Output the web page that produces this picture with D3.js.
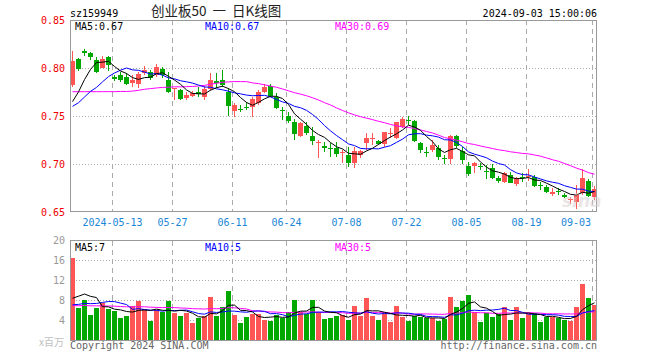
<!DOCTYPE html>
<html><head><meta charset="utf-8">
<script src="https://cdn.jsdelivr.net/npm/d3@7/dist/d3.min.js"></script>
<style>body{margin:0;background:#fff}svg{display:block}text{font-family:"DejaVu Sans Mono",monospace;font-size:10px}</style>
</head><body>
<svg id="c" width="660" height="360"></svg>
<script>
// ---------- data ----------
const dates = ["04-29","04-30","05-06","05-07","05-08","05-09","05-10","05-13","05-14","05-15","05-16","05-17","05-20","05-21","05-22","05-23","05-24","05-27","05-28","05-29","05-30","05-31",
"06-03","06-04","06-05","06-06","06-07","06-11","06-12","06-13","06-14","06-17","06-18","06-19","06-20","06-21","06-24","06-25","06-26","06-27","06-28",
"07-01","07-02","07-03","07-04","07-05","07-08","07-09","07-10","07-11","07-12","07-15","07-16","07-17","07-18","07-19","07-22","07-23","07-24","07-25","07-26","07-29","07-30","07-31",
"08-01","08-02","08-05","08-06","08-07","08-08","08-09","08-12","08-13","08-14","08-15","08-16","08-19","08-20","08-21","08-22","08-23","08-26","08-27","08-28","08-29","08-30","09-02","09-03"];
const openP  = [0.782,0.809,0.8177,0.816,0.808,0.800,0.8115,0.791,0.793,0.791,0.7847,0.783,0.795,0.7955,0.7927,0.799,0.788,0.7780,0.777,0.7684,0.7708,0.7747,0.770,0.7781,0.7865,0.7875,0.7753,0.7555,0.7576,0.7594,
0.759,0.7632,0.7753,0.7816,0.770,0.7566,0.750,0.744,0.7292,0.7396,0.7292,0.7229,0.7188,0.7167,0.717,0.7125,0.7094,0.7007,0.7094,0.7215,0.7264,0.7243,0.7205,0.7316,0.7267,0.7382,0.746,0.7448,0.7219,0.7127,
0.7146,0.717,0.7062,0.7049,0.7292,0.7139,0.6979,0.6983,0.6976,0.6924,0.6955,0.685,0.6816,0.6885,0.6788,0.6865,0.6872,0.6868,0.6785,0.6764,0.6687,0.6715,0.6677,0.6628,0.6608,0.6694,0.6826,0.666];
const closeP = [0.807,0.7986,0.816,0.811,0.796,0.809,0.803,0.789,0.7875,0.783,0.7875,0.7937,0.798,0.790,0.801,0.7927,0.775,0.7787,0.7677,0.7719,0.7743,0.773,0.7778,0.7875,0.7847,0.7823,0.7604,0.7615,0.7573,0.759,
0.7677,0.7753,0.7799,0.7708,0.7587,0.7562,0.7448,0.7309,0.743,0.7319,0.7243,0.7233,0.7163,0.716,0.710,0.7128,0.7007,0.7135,0.7135,0.7274,0.7267,0.7208,0.7337,0.732,0.744,0.7465,0.7458,0.7243,0.715,0.7118,
0.7198,0.7076,0.7059,0.7292,0.7188,0.7042,0.6896,0.7007,0.6972,0.692,0.6851,0.6826,0.6903,0.6806,0.6851,0.6861,0.6875,0.6774,0.6781,0.6712,0.6712,0.6712,0.6653,0.6632,0.6677,0.6851,0.6667,0.6736];
const highP  = [0.818,0.810,0.820,0.817,0.811,0.8125,0.812,0.793,0.796,0.7944,0.793,0.796,0.802,0.798,0.8038,0.8014,0.796,0.779,0.7778,0.7753,0.7764,0.7806,0.7813,0.795,0.7944,0.798,0.7788,0.7632,0.7615,0.765,
0.770,0.777,0.7833,0.7833,0.7736,0.759,0.7545,0.7465,0.744,0.744,0.7389,0.725,0.7233,0.7215,0.7233,0.7146,0.718,0.718,0.7146,0.7319,0.7319,0.725,0.7337,0.7372,0.744,0.7493,0.750,0.7458,0.7233,0.718,
0.725,0.7198,0.7094,0.7302,0.7302,0.718,0.7024,0.7024,0.7014,0.699,0.700,0.6875,0.692,0.692,0.6868,0.6903,0.6944,0.6885,0.6809,0.6781,0.6747,0.6747,0.6694,0.666,0.6781,0.6944,0.684,0.6771];
const lowP   = [0.780,0.797,0.8125,0.808,0.795,0.7997,0.797,0.786,0.785,0.782,0.7806,0.779,0.7927,0.788,0.791,0.790,0.774,0.7667,0.7667,0.7667,0.770,0.770,0.7667,0.7764,0.7788,0.7806,0.750,0.7493,0.7538,0.7562,
0.7493,0.7615,0.7736,0.7694,0.757,0.7458,0.7424,0.725,0.7285,0.730,0.7198,0.706,0.7128,0.7076,0.7076,0.7014,0.6972,0.6955,0.7066,0.7146,0.7198,0.7198,0.718,0.7267,0.7257,0.7372,0.7406,0.7233,0.7118,0.707,
0.7128,0.7042,0.700,0.700,0.7163,0.700,0.6875,0.691,0.6938,0.684,0.684,0.680,0.6806,0.680,0.6774,0.6816,0.6823,0.6764,0.6729,0.6694,0.6667,0.6677,0.6642,0.6583,0.6528,0.6677,0.6653,0.6625];
const volume = [16.6,6.47,8.2,5.2,6.47,7.47,6.33,5.87,4.47,4.87,6.87,8.0,6.33,4.0,6.2,5.67,8.0,5.47,4.87,5.47,3.47,4.47,5.0,8.67,5.0,6.67,9.87,5.2,3.47,4.67,
5.33,5.33,4.2,3.87,5.2,4.53,5.67,8.13,5.8,5.33,8.13,5.8,4.4,4.47,5.0,5.2,4.2,7.0,5.0,8.47,5.0,4.2,5.53,3.8,7.0,4.67,4.0,4.87,4.67,4.53,
4.47,4.0,4.33,8.8,6.8,8.0,9.2,5.8,3.8,5.53,4.67,5.33,6.67,4.2,6.67,4.47,5.53,5.53,3.8,4.67,4.7,4.5,4.2,4.0,6.7,11.4,8.5,7.13];
// closes / volumes of the 29 sessions before the window (needed for the moving averages)
const priorCloses = [0.799,0.815,0.81,0.797,0.808,0.802,0.79,0.78,0.785,0.775,0.77,0.765,0.77,0.78,0.775,0.77,0.765,0.77,0.765,0.768,0.76,0.757,0.752,0.755,0.751,0.748,0.752,0.758,0.760];
const priorVolumes = [7.5,6.8,7.2,6.5,8.0,6.9,7.1,6.2,6.6,7.4,7.0,6.8,6.5,7.3,6.9,7.2,6.6,6.8,7.0,6.2,5.5,6.2,5.8,6.0,5.5,4.5,6.0,7.5,7.7];
const priceTicks = [0.65,0.70,0.75,0.80,0.85];
const volTicks = [4,8,12,16,20];
const dateTicks = ["05-13","05-27","06-11","06-24","07-08","07-22","08-05","08-19","09-03"];
const dateTickLabels = ["2024-05-13","05-27","06-11","06-24","07-08","07-22","08-05","08-19","09-03"];
const maPeriods = [5,10,30];
const maColors = ["#000000","#0000ff","#ff00ff"];

// ---------- helpers ----------
function movingAvg(series, prior, n){
  const all = prior.concat(series), off = prior.length;
  return series.map((_,i)=> d3.mean(all.slice(off+i-n+1, off+i+1)));
}
const UP="#ff5555", DOWN="#00a800", GRID="#aaaaaa", FRAME="#999999";

const svg = d3.select("#c");
const L=70, R=597, T=20, B=212, VT=240.5, VB=340.5;
const x = d3.scaleLinear().domain([0, dates.length]).range([L, L+6*dates.length]);
const y = d3.scaleLinear().domain([0.65,0.85]).range([B,T]);
const yv = d3.scaleLinear().domain([0,20]).range([VB,VT]);
const bw = 5;

// ---------- grids ----------
const g = svg.append("g").attr("shape-rendering","crispEdges");
[0.70,0.75,0.80].forEach(p=>{
  g.append("line").attr("x1",L).attr("x2",R).attr("y1",Math.round(y(p))+0.5).attr("y2",Math.round(y(p))+0.5)
   .attr("stroke",GRID).attr("stroke-dasharray","1,2");
});
[4,8,12,16].forEach(v=>{
  g.append("line").attr("x1",L).attr("x2",R).attr("y1",Math.round(yv(v)-0.5)+0.5).attr("y2",Math.round(yv(v)-0.5)+0.5)
   .attr("stroke",GRID).attr("stroke-dasharray","1,2");
});
const tickIdx = dateTicks.map(d=>dates.indexOf(d));
tickIdx.forEach(i=>{
  const xx = Math.round(x(i))+0.5;
  [[T,B],[VT,VB]].forEach(([a,b])=>{
    g.append("line").attr("x1",xx).attr("x2",xx).attr("y1",a).attr("y2",b)
     .attr("stroke",GRID).attr("stroke-dasharray","5,4");
  });
});

// ---------- candles ----------
const cg = svg.append("g").attr("shape-rendering","crispEdges");
dates.forEach((d,i)=>{
  const col = closeP[i] >= openP[i] ? UP : DOWN;
  const x0 = Math.round(x(i));
  const yh = Math.round(y(highP[i])), yl = Math.round(y(lowP[i]));
  cg.append("rect").attr("x",x0+2).attr("width",1).attr("y",yh).attr("height",Math.max(1,yl-yh)).attr("fill",col);
  const yo = Math.round(y(openP[i])), yc = Math.round(y(closeP[i]));
  cg.append("rect").attr("x",x0).attr("width",bw).attr("y",Math.min(yo,yc)).attr("height",Math.max(1,Math.abs(yo-yc))).attr("fill",col);
  const vy = Math.round(yv(volume[i]));
  cg.append("rect").attr("x",x0).attr("width",bw).attr("y",vy).attr("height",Math.round(VB)-vy).attr("fill",col);
});

// ---------- moving averages ----------
const lineP = d3.line().x((d,i)=>x(i)+2.5).y(d=>y(d));
const lineV = d3.line().x((d,i)=>x(i)+2.5).y(d=>yv(d));
const priceMA = maPeriods.map(n=>movingAvg(closeP, priorCloses, n));
const volMA = maPeriods.map(n=>movingAvg(volume, priorVolumes, n));
[2,1,0].forEach(k=>{
  svg.append("path").attr("d",lineP(priceMA[k])).attr("fill","none").attr("stroke",maColors[k]).attr("stroke-width",1);
  svg.append("path").attr("d",lineV(volMA[k])).attr("fill","none").attr("stroke",maColors[k]).attr("stroke-width",1);
});

// ---------- frames ----------
svg.append("rect").attr("x",L+0.5).attr("y",T+0.5).attr("width",R-L-1).attr("height",B-T-1)
  .attr("fill","none").attr("stroke",FRAME).attr("shape-rendering","crispEdges");
svg.append("rect").attr("x",L+0.5).attr("y",VT).attr("width",R-L-1).attr("height",VB-VT)
  .attr("fill","none").attr("stroke",FRAME).attr("shape-rendering","crispEdges");

// ---------- axes ----------
const ay = svg.append("g").attr("transform",`translate(${L},0)`)
  .call(d3.axisLeft(y).tickValues(priceTicks).tickSize(0).tickPadding(5).tickFormat(d3.format(".2f")));
ay.select(".domain").remove();
ay.selectAll("text").attr("fill","#ee0000").style("font-size","10px").style("font-family","DejaVu Sans Mono");

const av = svg.append("g").attr("transform",`translate(${L},0)`)
  .call(d3.axisLeft(yv).tickValues(volTicks).tickSize(0).tickPadding(5).tickFormat(d3.format("d")));
av.select(".domain").remove();
av.selectAll("text").attr("fill","#999999").style("font-size","10px").style("font-family","DejaVu Sans Mono");

const ax = svg.append("g").attr("transform",`translate(0,${B})`)
  .call(d3.axisBottom(x).tickValues(tickIdx).tickSize(0).tickPadding(5).tickFormat((d,k)=>dateTickLabels[k]));
ax.select(".domain").remove();
ax.selectAll("text").attr("fill","#1a86d6").style("font-size","10px").style("font-family","DejaVu Sans Mono")
  .attr("dy","0.9em")
  .each(function(){
    const bb = this.getBBox();
    const tx = +d3.select(this.parentNode).attr("transform").match(/translate\(([-\d.]+)/)[1];
    if (tx + bb.width/2 > R-5) { d3.select(this).attr("text-anchor","end").attr("x", R-6-tx); }
  });

// ---------- texts ----------
svg.append("text").attr("x",70).attr("y",16.5).text("sz159949");
svg.append("text").attr("x",151).attr("y",16).attr("fill","#222").style("white-space","pre")
  .style("font-family","'Noto Sans CJK SC'").style("font-size","13.5px").text("创业板50  一  日K线图");
svg.append("text").attr("x",R).attr("y",16.5).attr("text-anchor","end").text("2024-09-03 15:00:06");
const fmtP = d3.format(".2f");
const labX = [75,205,335];
maPeriods.forEach((n,k)=>{
  svg.append("text").attr("x",labX[k]).attr("y",29.5).attr("fill",maColors[k])
    .text(`MA${n}:${fmtP(priceMA[k][priceMA[k].length-1])}`);
  svg.append("text").attr("x",labX[k]).attr("y",250.5).attr("fill",maColors[k])
    .text(`MA${n}:${Math.floor(volMA[k][volMA[k].length-1])}`);
});
svg.append("text").attr("x",64).attr("y",346).attr("text-anchor","end").attr("fill","#c0c0c0")
  .style("font-family","'Noto Sans CJK SC'").style("font-size","10px").text("x百万");
svg.append("text").attr("x",70).attr("y",348.5).attr("fill","#666").text("Copyright 2024 SINA.COM");
svg.append("text").attr("x",R).attr("y",348.5).attr("text-anchor","end").attr("fill","#666").text("http://finance.sina.com.cn");
svg.append("text").attr("x",562).attr("y",207).attr("fill","#d8cccc").attr("opacity",0.5)
  .style("font-family","'DejaVu Sans'").style("font-size","17px").style("font-style","italic").style("font-weight","bold").text("sina");
</script>
</body></html>
